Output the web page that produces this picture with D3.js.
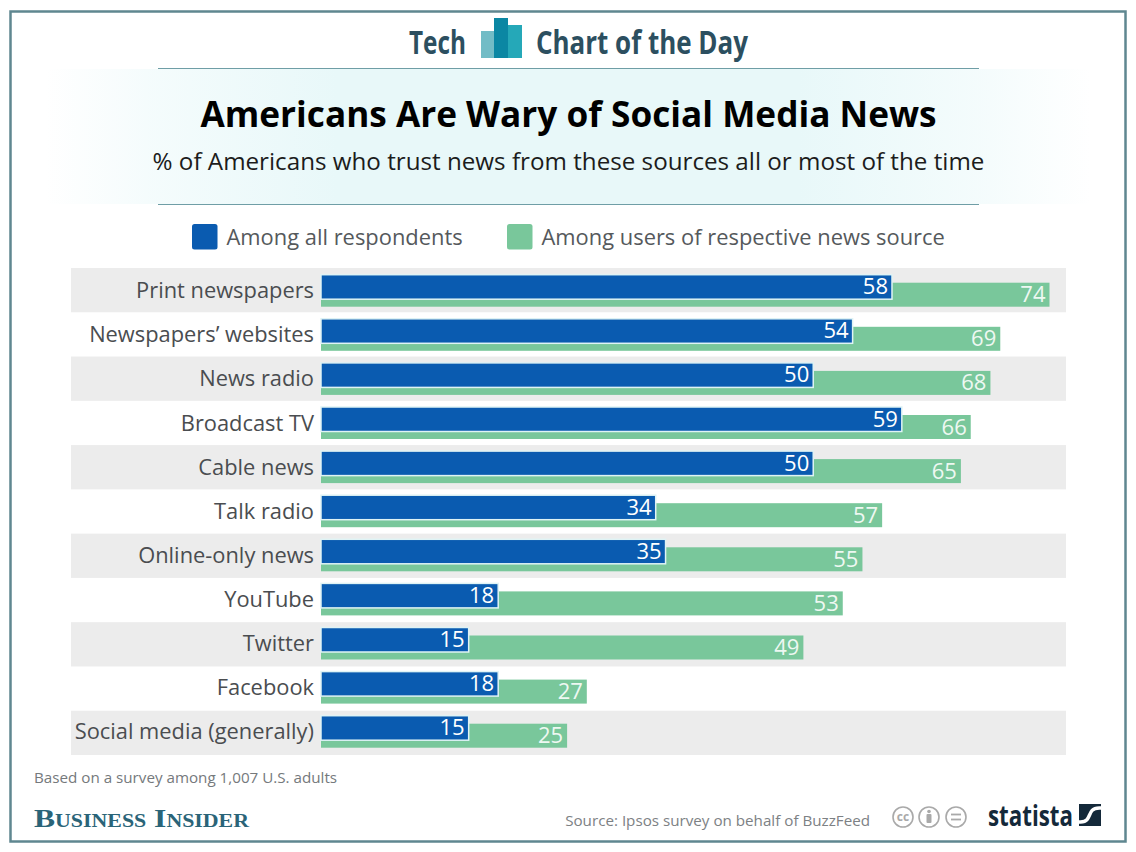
<!DOCTYPE html>
<html>
<head>
<meta charset="utf-8">
<script src="https://cdnjs.cloudflare.com/ajax/libs/d3/7.8.5/d3.min.js"></script>
<style>
  html, body { margin: 0; padding: 0; background: #fff; }
  svg { display: block; }
  text { font-family: "Open Sans", sans-serif; }
</style>
</head>
<body>
<svg id="chart" width="1136" height="852"></svg>
<script>
const categories = ['Print newspapers', 'Newspapers\u2019 websites', 'News radio', 'Broadcast TV', 'Cable news',
  'Talk radio', 'Online-only news', 'YouTube', 'Twitter', 'Facebook', 'Social media (generally)'];
const allRespondents = [58, 54, 50, 59, 50, 34, 35, 18, 15, 18, 15];
const sourceUsers = [74, 69, 68, 66, 65, 57, 55, 53, 49, 27, 25];
const seriesNames = ['Among all respondents', 'Among users of respective news source'];

const blue = '#0a5bb0';
const green = '#79c79b';

const svg = d3.select('#chart');
const defs = svg.append('defs');

const xScale = d3.scaleLinear().domain([0, 74]).range([321, 1049.5]);
// stripes and bars drift apart slightly in the original, so each gets its own band
const rowScale = d3.scaleBand().domain(categories).range([268, 755]);
const barScale = d3.scaleBand().domain(categories).range([274.7, 759.8]);

// outer frame
svg.append('rect')
  .attr('x', 10.5).attr('y', 11.5).attr('width', 1115).attr('height', 830)
  .attr('fill', '#fff').attr('stroke', '#5f8790').attr('stroke-width', 2.5);

// header
const headerColor = '#2c4f60';
svg.append('text').text('Tech')
  .attr('x', 409).attr('y', 54).attr('font-size', 33).attr('font-weight', 700)
  .attr('fill', headerColor).attr('textLength', 57).attr('lengthAdjust', 'spacingAndGlyphs');
svg.append('text').text('Chart of the Day')
  .attr('x', 536).attr('y', 54).attr('font-size', 33).attr('font-weight', 700)
  .attr('fill', headerColor).attr('textLength', 212).attr('lengthAdjust', 'spacingAndGlyphs');

svg.append('rect').attr('x', 481).attr('y', 31).attr('width', 14).attr('height', 27).attr('fill', '#72bcc6');
svg.append('rect').attr('x', 508).attr('y', 25).attr('width', 14).attr('height', 33).attr('fill', '#25a8b8');
svg.append('rect').attr('x', 494).attr('y', 18).attr('width', 14).attr('height', 40).attr('fill', '#0b87a3');

// title band
const grad = defs.append('linearGradient').attr('id', 'band');
[[0, 0], [0.1, 0.45], [0.28, 1], [0.72, 1], [0.9, 0.45], [1, 0]].forEach(s => {
  grad.append('stop').attr('offset', s[0]).attr('stop-color', '#e8f8f9').attr('stop-opacity', s[1]);
});
svg.append('rect').attr('x', 45).attr('y', 69).attr('width', 1046).attr('height', 135).attr('fill', 'url(#band)');
[68.5, 204.5].forEach(y => {
  svg.append('line').attr('x1', 158).attr('x2', 979).attr('y1', y).attr('y2', y)
    .attr('stroke', '#6f9ea6').attr('stroke-width', 1);
});

svg.append('text').text('Americans Are Wary of Social Media News')
  .attr('x', 568.5).attr('y', 127).attr('text-anchor', 'middle')
  .attr('font-size', 35.2).attr('font-weight', 700).attr('fill', '#000');
svg.append('text').text('% of Americans who trust news from these sources all or most of the time')
  .attr('x', 568.5).attr('y', 170).attr('text-anchor', 'middle')
  .attr('font-size', 24.2).attr('fill', '#1c1c1c');

// legend
const legendX = [192, 507];
seriesNames.forEach((name, i) => {
  svg.append('rect').attr('x', legendX[i]).attr('y', 224).attr('width', 25.5).attr('height', 25.5)
    .attr('rx', 2.5).attr('fill', i === 0 ? blue : green);
  svg.append('text').text(name).attr('x', legendX[i] + 34.5).attr('y', 245)
    .attr('font-size', 21.9).attr('fill', '#55595c');
});

// row stripes
svg.append('g').selectAll('rect')
  .data(categories.filter((d, i) => i % 2 === 0))
  .join('rect')
  .attr('x', 71).attr('width', 995)
  .attr('y', d => rowScale(d)).attr('height', rowScale.bandwidth())
  .attr('fill', '#ececec');

// category labels
svg.append('g').selectAll('text')
  .data(categories)
  .join('text')
  .text(d => d)
  .attr('x', 314).attr('y', d => barScale(d) + 23.5)
  .attr('text-anchor', 'end').attr('font-size', 21.85).attr('fill', '#4a4d50');

// green bars sit behind the blue ones
svg.append('g').selectAll('rect')
  .data(sourceUsers)
  .join('rect')
  .attr('x', xScale(0))
  .attr('y', (d, i) => barScale(categories[i]) + 8)
  .attr('width', d => xScale(d) - xScale(0))
  .attr('height', 24)
  .attr('fill', green);

svg.append('g').selectAll('rect')
  .data(allRespondents)
  .join('rect')
  .attr('x', xScale(0))
  .attr('y', (d, i) => barScale(categories[i]))
  .attr('width', d => xScale(d) - xScale(0))
  .attr('height', 24.5)
  .attr('fill', blue)
  .attr('stroke', '#dff3f5').attr('stroke-width', 1.5);

svg.append('g').selectAll('text')
  .data(sourceUsers)
  .join('text')
  .text(d => d)
  .attr('x', d => xScale(d) - 4)
  .attr('y', (d, i) => barScale(categories[i]) + 27.5)
  .attr('text-anchor', 'end').attr('font-size', 22).attr('fill', '#eef8f2');

svg.append('g').selectAll('text')
  .data(allRespondents)
  .join('text')
  .text(d => d)
  .attr('x', d => xScale(d) - 4)
  .attr('y', (d, i) => barScale(categories[i]) + 19.5)
  .attr('text-anchor', 'end').attr('font-size', 22).attr('fill', '#fff');

// footer
svg.append('text').text('Based on a survey among 1,007 U.S. adults')
  .attr('x', 34).attr('y', 783).attr('font-size', 15.2).attr('fill', '#75797c');

svg.append('text')
  .attr('x', 34).attr('y', 827)
  .attr('font-size', 26).attr('font-weight', 700).attr('fill', '#2a6478')
  .attr('textLength', 215).attr('lengthAdjust', 'spacingAndGlyphs')
  .style('font-family', '"Liberation Serif", serif')
  .style('font-variant', 'small-caps')
  .text('Business Insider');

svg.append('text').text('Source: Ipsos survey on behalf of BuzzFeed')
  .attr('x', 870).attr('y', 826).attr('text-anchor', 'end')
  .attr('font-size', 15.2).attr('fill', '#7d8184');

// licence icons
const iconG = svg.append('g').attr('fill', 'none').attr('stroke', '#a9a9a9').attr('stroke-width', 1.6);
[903, 929, 956].forEach(cx => {
  iconG.append('circle').attr('cx', cx).attr('cy', 817).attr('r', 10);
});
svg.append('text').text('cc').attr('x', 903).attr('y', 821).attr('text-anchor', 'middle')
  .attr('font-size', 12).attr('font-weight', 700).attr('fill', '#a9a9a9');
svg.append('circle').attr('cx', 929).attr('cy', 811.5).attr('r', 1.8).attr('fill', '#a9a9a9');
svg.append('rect').attr('x', 926.5).attr('y', 814).attr('width', 5).attr('height', 9).attr('rx', 1).attr('fill', '#a9a9a9');
[814.5, 819.5].forEach(y => {
  svg.append('line').attr('x1', 951).attr('x2', 961).attr('y1', y).attr('y2', y)
    .attr('stroke', '#a9a9a9').attr('stroke-width', 1.8);
});

// statista logo
svg.append('text').text('statista')
  .attr('x', 988).attr('y', 826).attr('font-size', 28).attr('font-weight', 700)
  .attr('fill', '#14293a').attr('textLength', 85).attr('lengthAdjust', 'spacingAndGlyphs');
svg.append('rect').attr('x', 1079).attr('y', 804).attr('width', 22).attr('height', 22).attr('fill', '#14293a');
svg.append('path')
  .attr('d', d3.line().curve(d3.curveBasis)([[1079, 822], [1088, 822], [1091, 808], [1101, 808]]))
  .attr('fill', 'none').attr('stroke', '#fff').attr('stroke-width', 3.5);
</script>
</body>
</html>
